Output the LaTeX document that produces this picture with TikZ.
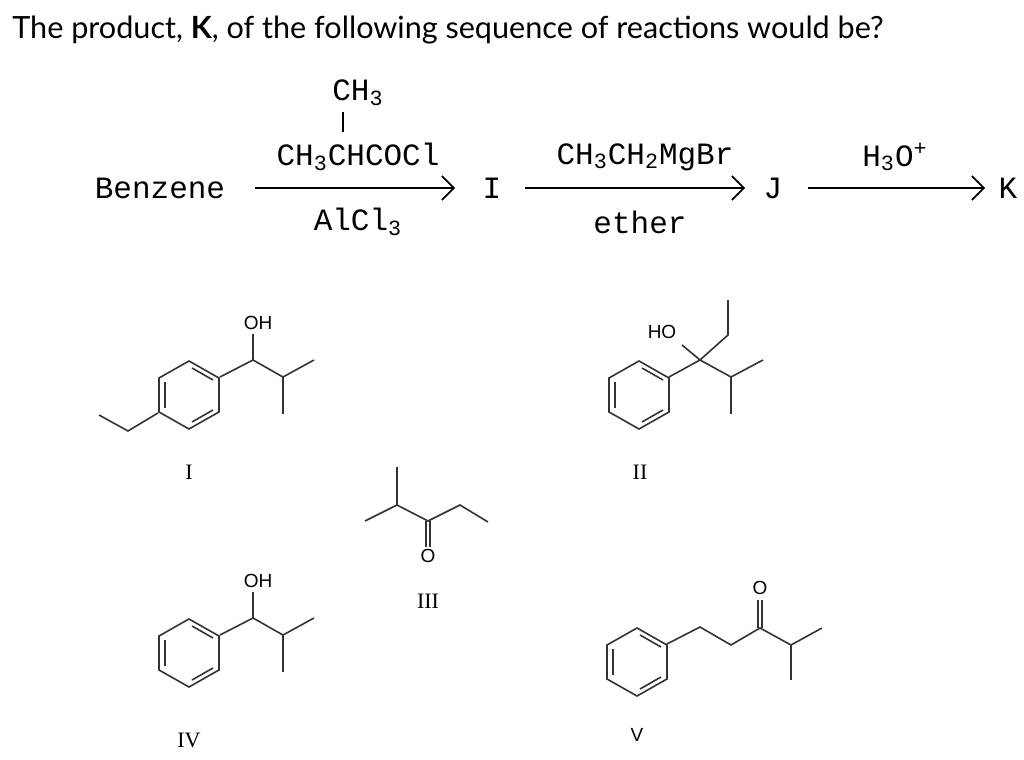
\documentclass[tikz,border=0pt]{standalone}
\usepackage{fontspec}
\usetikzlibrary{arrows.meta}
\setmainfont{Lato}
\newfontfamily\mono{Liberation Mono}
\newfontfamily\lsans{Liberation Sans}
\newfontfamily\lser{Liberation Serif}
\begin{document}
\begin{tikzpicture}[x=0.5pt,y=-0.5pt,
  bond/.style={line width=0.8pt,color=black!80},
  rx/.style={font=\mono\fontsize{15.5}{18}\selectfont,inner sep=0pt},
  atom/.style={font=\lsans\fontsize{9.5}{11}\selectfont,inner sep=0pt},
  lab/.style={font=\lser\fontsize{11}{13}\selectfont,inner sep=0pt},
  arr/.style={line width=0.8pt,-{Straight Barb[length=6pt]}}]
\useasboundingbox (0,0) rectangle (1024,760);
\node[anchor=west,inner sep=0pt,font=\fontsize{15.3}{18}\selectfont] (title) at (12,30) {The product, \textbf{K}, of the following sequence of reactions would be?};
% reaction line
\node[rx] (benz) at (160,188) {Benzene};
\node[rx] (pI) at (492,188) {I};
\node[rx] (pJ) at (773,188) {J};
\node[rx] (pK) at (1008,188) {K};
\coordinate (a1s) at (255,188); \coordinate (a1e) at (455,188);
\coordinate (a2s) at (525,188); \coordinate (a2e) at (745,188);
\coordinate (a3s) at (808,188); \coordinate (a3e) at (985,188);
\draw[arr] (a1s) -- (a1e);
\draw[arr] (a2s) -- (a2e);
\draw[arr] (a3s) -- (a3e);
\node[rx] (r1) at (358,157) {CH\textsubscript{3}CHCOCl};
\node[rx] (r1m) at (358,93) {CH\textsubscript{3}};
\coordinate (v1) at (343,112); \coordinate (v2) at (343,132);
\draw[line width=0.8pt] (v1) -- (v2);
\node[rx] (r2) at (358,222) {AlCl\textsubscript{3}};
\node[rx] (r3) at (645,157) {CH\textsubscript{3}CH\textsubscript{2}MgBr};
\node[rx] (r4) at (640,222) {ether};
\node[rx] (r5) at (895,157) {H\textsubscript{3}O\textsuperscript{+}};
\tikzset{benzring/.pic={
  \draw[bond] (0,-34) -- (30,-17) -- (30,17) -- (0,34) -- (-30,17) -- (-30,-17) -- cycle;
  \draw[bond] (3,-27) -- (24,-15);
  \draw[bond] (24,15) -- (3,27);
  \draw[bond] (-24,-13) -- (-24,13);
}}
% I
\pic at (189,395) {benzring};
\draw[bond] (158,413) -- (128,431) -- (99,415);
\draw[bond] (220,377) -- (253,360) -- (253,334);
\draw[bond] (253,360) -- (283,377) -- (314,360);
\draw[bond] (283,377) -- (283,414);
\node[atom] (oh1) at (258,323) {OH};
\node[lab] (l1) at (189,472) {I};
% II
\pic at (639,395) {benzring};
\draw[bond] (669,377) -- (700,360) -- (728,335) -- (728,300);
\draw[bond] (700,360) -- (682,345);
\draw[bond] (700,360) -- (731,377) -- (763,360);
\draw[bond] (731,377) -- (731,414);
\node[atom] (ho2) at (662,332) {HO};
\node[lab] (l2) at (640,472) {II};
% III
\draw[bond] (397,467) -- (397,505) -- (365,521);
\draw[bond] (397,505) -- (428,521) -- (460,505) -- (488,522);
\draw[bond] (426,521) -- (426,547);
\draw[bond] (430,521) -- (430,547);
\node[atom] (o3) at (428,556) {O};
\node[lab] (l3) at (428,601) {III};
% IV
\pic at (189,653) {benzring};
\draw[bond] (220,635) -- (253,618) -- (253,592);
\draw[bond] (253,618) -- (283,635) -- (314,618);
\draw[bond] (283,635) -- (283,672);
\node[atom] (oh4) at (258,581) {OH};
\node[lab] (l4) at (189,740) {IV};
% V
\pic at (637,662) {benzring};
\draw[bond] (667,644) -- (700,627) -- (731,645) -- (760,628) -- (791,645) -- (822,628);
\draw[bond] (791,645) -- (791,680);
\draw[bond] (758,628) -- (758,600);
\draw[bond] (762,628) -- (762,600);
\node[atom] (o5) at (760,588) {O};
\node[atom] (l5) at (637,735) {V};
\end{tikzpicture}
\end{document}
